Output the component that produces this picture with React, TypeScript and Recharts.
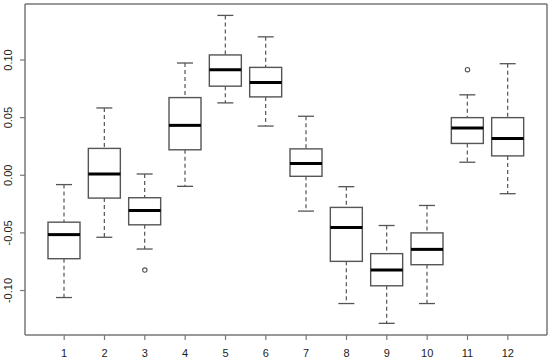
import {
  ComposedChart,
  Bar,
  Scatter,
  XAxis,
  YAxis,
} from "recharts";

const categories = ["1", "2", "3", "4", "5", "6", "7", "8", "9", "10", "11", "12"];
const lowWhisker = [-0.1061, -0.0538, -0.064, -0.0096, 0.0628, 0.0427, -0.0311, -0.1113, -0.1285, -0.1113, 0.0113, -0.016];
const q1 = [-0.0724, -0.0198, -0.043, 0.0221, 0.0773, 0.068, -0.0009, -0.0747, -0.0959, -0.0776, 0.0276, 0.0168];
const median = [-0.0515, 0.0011, -0.0305, 0.0433, 0.0916, 0.0805, 0.0102, -0.0453, -0.0823, -0.0643, 0.041, 0.032];
const q3 = [-0.0407, 0.0233, -0.0195, 0.0674, 0.1044, 0.0936, 0.0229, -0.0279, -0.068, -0.05, 0.05, 0.05];
const highWhisker = [-0.0081, 0.0584, 0.0011, 0.0974, 0.1387, 0.1201, 0.0512, -0.0099, -0.0436, -0.0262, 0.0698, 0.0968];

const outlierCategories = ["3", "11"];
const outlierValues = [-0.0823, 0.0916];

const yTicks = [-0.1, -0.05, 0, 0.05, 0.1];
const yDomain = [-0.1386, 0.1486];

const data = categories.map((cat, i) => ({
  cat,
  range: [lowWhisker[i], highWhisker[i]],
  low: lowWhisker[i],
  q1: q1[i],
  median: median[i],
  q3: q3[i],
  high: highWhisker[i],
}));

const outliers = outlierCategories.map((cat, i) => ({ cat, out: outlierValues[i] }));

const FONT = "'Liberation Sans Narrow', 'Liberation Sans', Arial, sans-serif";
const BOX = "#555";
const FRAME = "#777";
const PAD = { left: 19, right: 19 };

function BoxShape(props: any) {
  const { x, y, width, height, payload } = props;
  const top = Math.min(y, y + height);
  const bottom = Math.max(y, y + height);
  const toPx = (v: number) =>
    top + ((payload.high - v) / (payload.high - payload.low)) * (bottom - top);
  const cx = x + width / 2;
  const capHalf = width / 4;
  const yQ1 = toPx(payload.q1);
  const yQ3 = toPx(payload.q3);
  const yMed = toPx(payload.median);
  return (
    <g>
      <line x1={cx} x2={cx} y1={top} y2={yQ3} stroke={BOX} strokeWidth={1.2} strokeDasharray="4 3" />
      <line x1={cx} x2={cx} y1={yQ1} y2={bottom} stroke={BOX} strokeWidth={1.2} strokeDasharray="4 3" />
      <line x1={cx - capHalf} x2={cx + capHalf} y1={top} y2={top} stroke={BOX} strokeWidth={1.3} />
      <line x1={cx - capHalf} x2={cx + capHalf} y1={bottom} y2={bottom} stroke={BOX} strokeWidth={1.3} />
      <rect x={x} y={yQ3} width={width} height={yQ1 - yQ3} fill="#fff" stroke={BOX} strokeWidth={1.4} />
      <line x1={x} x2={x + width} y1={yMed} y2={yMed} stroke="#000" strokeWidth={3} />
    </g>
  );
}

function YTick(props: any) {
  const { x, y, payload } = props;
  const cx = x - 10;
  return (
    <text
      x={cx}
      y={y}
      transform={`rotate(-90, ${cx}, ${y})`}
      textAnchor="middle"
      dy="0.35em"
      fontSize={11}
      fontFamily={FONT}
      fill="#222"
    >
      {payload.value.toFixed(2)}
    </text>
  );
}

function Outlier(props: any) {
  const { cx, cy } = props;
  return <circle cx={cx} cy={cy} r={2.2} fill="none" stroke={BOX} strokeWidth={1.1} />;
}

function Nothing() {
  return <g />;
}

export default function App() {
  return (
    <div style={{ position: "absolute", left: 0, top: 0 }}>
      <ComposedChart
        width={550}
        height={362}
        data={data}
        margin={{ top: 3, right: 2, left: 0, bottom: 0 }}
      >
        <XAxis
          dataKey="cat"
          allowDuplicatedCategory={false}
          padding={PAD}
          height={27}
          tickSize={5}
          tickMargin={9}
          axisLine={{ stroke: FRAME, strokeWidth: 1.5 }}
          tickLine={{ stroke: FRAME, strokeWidth: 1.2 }}
          tick={{ fontSize: 11, fontFamily: FONT, fill: "#222" }}
          interval={0}
        />
        <XAxis
          xAxisId="top"
          orientation="top"
          dataKey="cat"
          padding={PAD}
          height={1}
          tick={false}
          tickLine={false}
          axisLine={{ stroke: FRAME, strokeWidth: 1.5 }}
        />
        <YAxis
          width={25}
          domain={yDomain}
          ticks={yTicks}
          allowDataOverflow
          tickSize={5}
          tickMargin={2}
          axisLine={{ stroke: FRAME, strokeWidth: 1.5 }}
          tickLine={{ stroke: FRAME, strokeWidth: 1.2 }}
          tick={<YTick />}
          interval={0}
        />
        <YAxis
          yAxisId="right"
          orientation="right"
          width={1}
          domain={yDomain}
          allowDataOverflow
          tick={false}
          tickLine={false}
          axisLine={{ stroke: FRAME, strokeWidth: 1.5 }}
        />
        <Bar
          dataKey="range"
          barSize={32}
          shape={<BoxShape />}
          isAnimationActive={false}
        />
        <Scatter
          dataKey="median"
          xAxisId="top"
          yAxisId="right"
          shape={<Nothing />}
          isAnimationActive={false}
        />
        <Scatter
          data={outliers}
          dataKey="out"
          shape={<Outlier />}
          isAnimationActive={false}
        />
      </ComposedChart>
    </div>
  );
}
